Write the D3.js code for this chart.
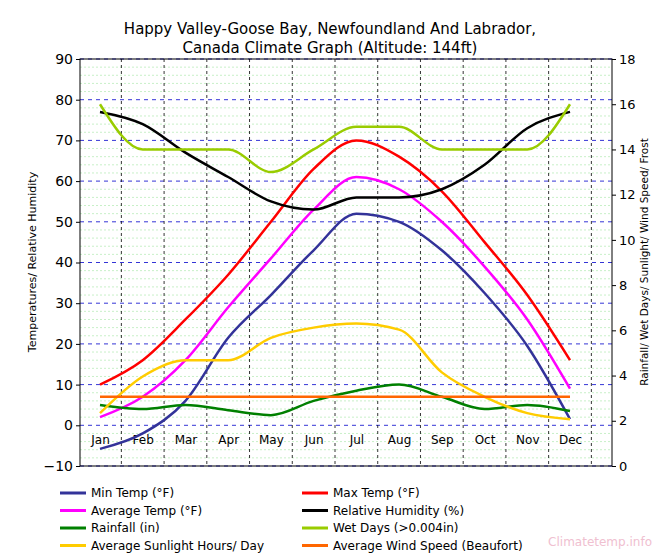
<!DOCTYPE html>
<html><head><meta charset="utf-8">
<script src="https://cdn.jsdelivr.net/npm/d3@7"></script>
<style>body{margin:0;background:#fff}text{font-family:"DejaVu Sans",Verdana,sans-serif}</style>
</head><body><svg id="c" width="659" height="557"></svg>
<script>
const months=["Jan","Feb","Mar","Apr","May","Jun","Jul","Aug","Sep","Oct","Nov","Dec"];
const leftTicks=[-10,0,10,20,30,40,50,60,70,80,90];
const rightTicks=[0,2,4,6,8,10,12,14,16,18];
const minTemp=[-5.8,-2,6,21.5,32,43,52,50,43,32.5,19.5,1.5];
const maxTemp=[10,16,26,37,50,63,70,66,57.5,45,32,16];
const avgTemp=[2,7,16,29,41,53,61,58,50,39,26,9];
const humidity=[77,74,67,61,55,53,56,56,58,64,73,77];
const rainfall=[2.7,2.52,2.7,2.47,2.25,2.88,3.33,3.6,3.06,2.52,2.7,2.43];
const wetDays=[16,14,14,14,13,14,15,15,14,14,14,16];
const sunlight=[2.34,3.96,4.68,4.68,5.67,6.12,6.3,6.03,4.14,3.06,2.34,2.07];
const wind=[3.06,3.06,3.06,3.06,3.06,3.06,3.06,3.06,3.06,3.06,3.06,3.06];

const svg=d3.select("#c");
const L=80,R=612,T=59,B=466;
const x=d3.scalePoint().domain(months).range([100,570]);
const yL=d3.scaleLinear().domain([-10,90]).range([B,T]);
const yR=d3.scaleLinear().domain([0,18]).range([B,T]);

for(let v=-10;v<=90;v+=2){ if(v%10===0) continue;
  svg.append("line").attr("x1",L).attr("x2",R).attr("y1",yL(v)).attr("y2",yL(v)).attr("stroke","#c8f0c8").attr("stroke-dasharray","2,2");}
leftTicks.forEach(v=>svg.append("line").attr("x1",L).attr("x2",R).attr("y1",yL(v)).attr("y2",yL(v)).attr("stroke","#0000cc").attr("stroke-dasharray","4,4").attr("stroke-width",0.8));
const step=x.step();
months.forEach(m=>svg.append("line").attr("x1",x(m)+step/2).attr("x2",x(m)+step/2).attr("y1",T).attr("y2",B).attr("stroke","#000").attr("stroke-dasharray","3,3").attr("stroke-width",0.8));
svg.append("rect").attr("x",L).attr("y",T).attr("width",R-L).attr("height",B-T).attr("fill","none").attr("stroke","#000");

const la=svg.append("g").attr("transform",`translate(${L},0)`).call(d3.axisLeft(yL).tickValues(leftTicks).tickSize(4));
const ra=svg.append("g").attr("transform",`translate(${R},0)`).call(d3.axisRight(yR).tickValues(rightTicks).tickSize(4));
[la,ra].forEach(a=>{a.select(".domain").remove();a.selectAll("text").attr("font-size",14).attr("fill","#000").style("font-family","DejaVu Sans");});
ra.selectAll("text").attr("font-size",13);
const xa=svg.append("g").attr("transform",`translate(0,${yL(0)})`).call(d3.axisBottom(x).tickSize(0).tickPadding(10));
xa.select(".domain").remove();xa.selectAll("text").attr("font-size",12).style("font-family","DejaVu Sans");

const series=[
 [minTemp,yL,"#333399"],[maxTemp,yL,"#ff0000"],[avgTemp,yL,"#ff00ff"],[humidity,yL,"#000000"],
 [rainfall,yR,"#008000"],[wetDays,yR,"#99cc00"],[sunlight,yR,"#ffcc00"],[wind,yR,"#ff6600"]];
series.forEach(([d,y,c])=>{
  svg.append("path").attr("d",d3.line().x((v,i)=>x(months[i])).y(v=>y(v)).curve(d3.curveMonotoneX)(d))
   .attr("fill","none").attr("stroke",c).attr("stroke-width",2.5);
});

svg.append("text").attr("x",330).attr("y",34).attr("text-anchor","middle").attr("font-size",15).text("Happy Valley-Goose Bay, Newfoundland And Labrador,");
svg.append("text").attr("x",330).attr("y",53).attr("text-anchor","middle").attr("font-size",15).text("Canada Climate Graph (Altitude: 144ft)");
svg.append("text").attr("transform","translate(36,262) rotate(-90)").attr("text-anchor","middle").attr("font-size",11).text("Temperatures/ Relative Humidity");
svg.append("text").attr("transform","translate(648,262) rotate(-90)").attr("text-anchor","middle").attr("font-size",10.5).text("Rainfall/ Wet Days/ Sunlight/ Wind Speed/ Frost");

const legend=[["Min Temp (°F)","#333399"],["Max Temp (°F)","#ff0000"],["Average Temp (°F)","#ff00ff"],["Relative Humidity (%)","#000000"],
 ["Rainfall (in)","#008000"],["Wet Days (>0.004in)","#99cc00"],["Average Sunlight Hours/ Day","#ffcc00"],["Average Wind Speed (Beaufort)","#ff6600"]];
legend.forEach(([t,c],i)=>{
  const lx=i%2?302:60, ly=493+Math.floor(i/2)*17.5;
  svg.append("line").attr("x1",lx).attr("x2",lx+26).attr("y1",ly).attr("y2",ly).attr("stroke",c).attr("stroke-width",3);
  svg.append("text").attr("x",lx+31).attr("y",ly+4).attr("font-size",12).text(t);
});
svg.append("text").attr("x",652).attr("y",546).attr("text-anchor","end").attr("font-size",12).attr("fill","#f0c0d0").text("Climatetemp.info");
</script></body></html>
